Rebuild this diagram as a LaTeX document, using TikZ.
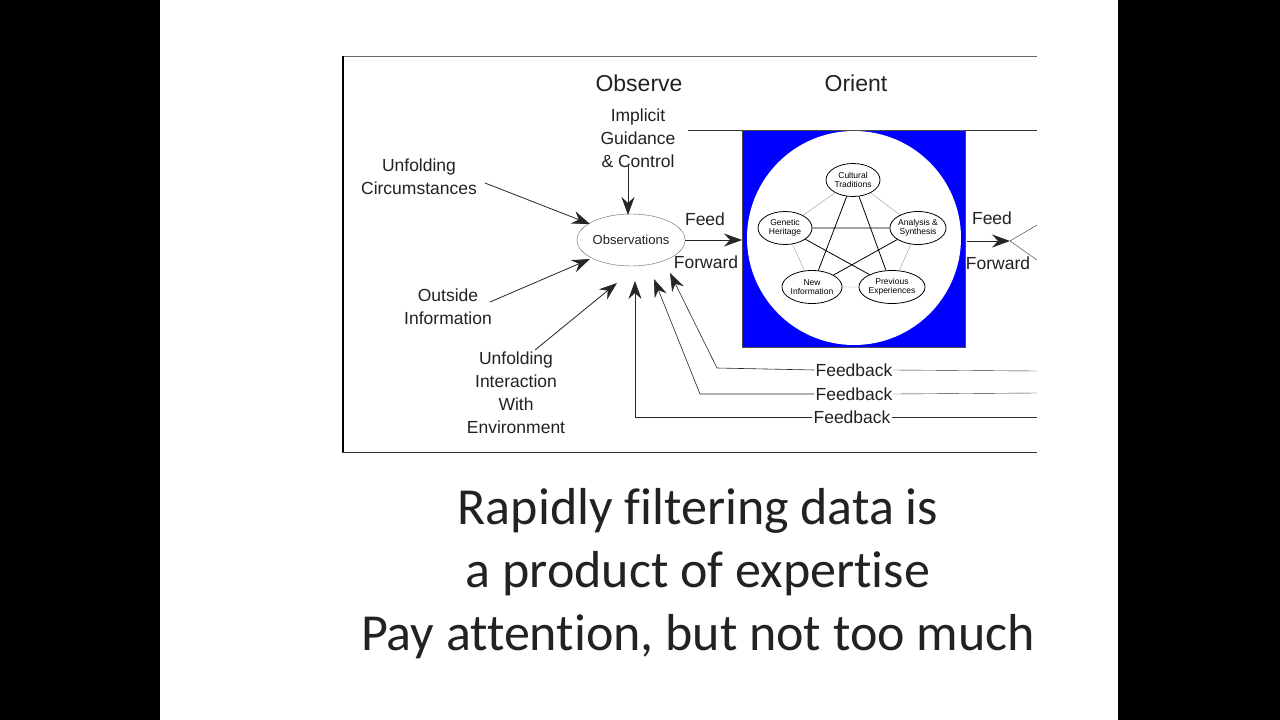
\documentclass[tikz,border=0pt]{standalone}
\usepackage{fontspec}
\setmainfont{Liberation Sans}
\newfontfamily\capfont[Ligatures=NoCommon]{Carlito}
\usetikzlibrary{arrows.meta,shapes.geometric}
\definecolor{txt}{HTML}{222222}
\begin{document}
\begin{tikzpicture}[x=1pt,y=-1pt,
 lab/.style={align=center,text=txt,font=\fontsize{17.5}{23}\selectfont,inner sep=0},
 arr/.style={-{Stealth[length=18pt,width=13pt,inset=6pt]},thick,black!85},
 small/.style={draw,thick,ellipse,minimum width=54pt,minimum height=33pt,inner sep=0,align=center,font=\fontsize{8.5}{9}\selectfont},
 ln/.style={thin,black!80}]
\fill[black] (0,0) rectangle (1280,720);
\fill[white] (160,0) rectangle (1118,720);
\useasboundingbox (0,0) rectangle (1280,720);
% frame
\draw[black!60] (342,56) -- (1037,56);
\draw[black,line width=2pt] (343,56) -- (343,452);
\draw[black!80] (342,452) -- (1037,452);
\node[lab,font=\fontsize{23}{24}\selectfont] (obs) at (639,83) {Observe};
\node[lab,font=\fontsize{23}{24}\selectfont] (ori) at (856,83) {Orient};
% orient box
\draw[black!80] (688,130) -- (1037,130);
\fill[blue] (742,130) rectangle (965,347);
\draw[black!70] (742,130) rectangle (965,347);
\fill[white] (854,238) circle (107);
\node[small] (ct) at (853,180) {Cultural\\Traditions};
\node[small] (gh) at (785,228) {Genetic\\Heritage};
\node[small] (as) at (918,228) {Analysis \&\\Synthesis};
\node[small] (ni) at (812,287) {New\\Information};
\node[small] (pe) at (892,287) {Previous\\Experiences};
\draw[black!40] (ct) -- (gh) (ct) -- (as) (gh) -- (ni) (as) -- (pe) (ni) -- (pe);
\draw[thick] (ct) -- (ni) (ct) -- (pe) (gh) -- (as) (gh) -- (pe) (as) -- (ni);
% observations
\node[draw,black!60,ellipse,minimum width=102pt,minimum height=52pt,inner sep=0,font=\fontsize{13}{14}\selectfont,text=txt] (ob) at (631,240) {Observations};
\node[lab] (ig) at (638,138) {Implicit\\Guidance\\\& Control};
\node[lab] (uc) at (419,177) {Unfolding\\Circumstances};
\node[lab] (oi) at (448,307) {Outside\\Information};
\node[lab] (ui) at (516,393) {Unfolding\\Interaction\\With\\Environment};
\coordinate (uce) at (485,183);
\coordinate (oie) at (490,302);
\coordinate (uie) at (535,350);
\coordinate (igs) at (628,166);
\draw[arr] (uce) -- (590,224);
\draw[arr] (oie) -- (590,259);
\draw[arr] (uie) -- (617,283);
\draw[arr] (igs) -- (628,215);
\draw[arr] (ob) -- (742,240);
\node[lab] (ff1) at (705,219) {Feed};
\node[lab] (ff2) at (706,262) {Forward};
\node[lab] (ff3) at (992,218) {Feed};
\node[lab] (ff4) at (998,263) {Forward};
\coordinate (x0) at (1010,241);
\draw[arr] (967,241) -- (x0);
\draw[ln] (x0) -- (1037,225) (x0) -- (1037,260);
% feedbacks
\node[lab,inner sep=1pt] (fb1) at (854,370) {Feedback};
\node[lab,inner sep=1pt] (fb2) at (854,394) {Feedback};
\node[lab,inner sep=1pt] (fb3) at (852,417) {Feedback};
\draw[arr,semithick] (fb1.west) -- (717,368) -- (670,273);
\draw[ln] (fb1.east) -- (1037,371);
\draw[arr,semithick] (fb2.west) -- (700,394) -- (654,279);
\draw[ln] (fb2.east) -- (1037,393);
\draw[arr,semithick] (fb3.west) -- (635,417) -- (635,281);
\draw[ln] (fb3.east) -- (1037,417);
% caption
\node[align=center,text=txt,font=\capfont\fontsize{52}{63}\selectfont,inner sep=0] (cap) at (698,574) {Rapidly filtering data is\\a product of expertise\\Pay attention, but not too much};
\end{tikzpicture}
\end{document}
